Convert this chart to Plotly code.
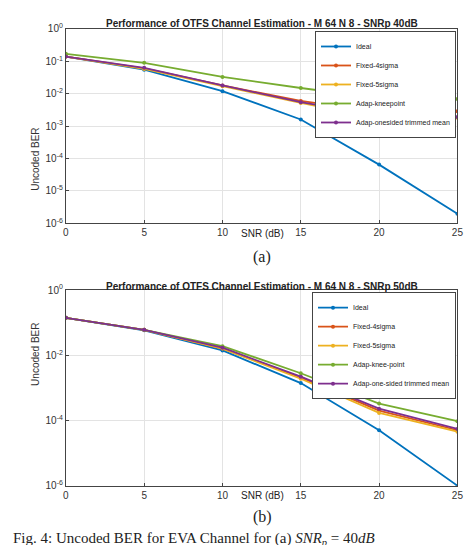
import plotly.graph_objects as go

snr = [0, 5, 10, 15, 20, 25]
names_a = ["Ideal", "Fixed-4sigma", "Fixed-5sigma", "Adap-kneepoint", "Adap-onesided trimmed mean"]
names_b = ["Ideal", "Fixed-4sigma", "Fixed-5sigma", "Adap-knee-point", "Adap-one-sided trimmed mean"]
colors = ["#0072BD", "#D95319", "#EDB120", "#77AC30", "#7E2F8E"]

ideal_a = [0.14, 0.055, 0.012, 0.0016, 6.5e-5, 2e-6]
f4_a = [0.14, 0.06, 0.018, 0.006, 0.0027, 0.0029]
f5_a = [0.14, 0.058, 0.017, 0.0052, 0.0017, 0.0018]
knee_a = [0.17, 0.09, 0.033, 0.015, 0.0073, 0.0069]
trim_a = [0.14, 0.063, 0.018, 0.0055, 0.0021, 0.0019]

ideal_b = [0.14, 0.058, 0.014, 0.0014, 5e-5, 1e-6]
f4_b = [0.14, 0.06, 0.016, 0.0021, 0.0002, 5e-5]
f5_b = [0.14, 0.06, 0.016, 0.0019, 0.00017, 4.5e-5]
knee_b = [0.14, 0.06, 0.019, 0.0028, 0.00033, 9.5e-5]
trim_b = [0.14, 0.06, 0.017, 0.0022, 0.00023, 5.5e-5]

series_a = [ideal_a, f4_a, f5_a, knee_a, trim_a]
series_b = [ideal_b, f4_b, f5_b, knee_b, trim_b]

fig = go.Figure()
for n, c, y in zip(names_a, colors, series_a):
    fig.add_trace(go.Scatter(x=snr, y=y, name=n, mode="lines+markers", line=dict(color=c, width=1.8),
                             marker=dict(size=4, color=c), xaxis="x", yaxis="y", legend="legend"))
for n, c, y in zip(names_b, colors, series_b):
    fig.add_trace(go.Scatter(x=snr, y=y, name=n, mode="lines+markers", line=dict(color=c, width=1.8),
                             marker=dict(size=4, color=c), xaxis="x2", yaxis="y2", legend="legend2"))

font = dict(family="Liberation Sans, Arial", size=10, color="#333")
xd = [0.118, 0.96]
ax_common = dict(showgrid=True, gridcolor="#e3e3e3", showline=True, linecolor="#444", mirror=True,
                 ticks="inside", ticklen=3, tickfont=font, zeroline=False)
exp_a = [0, -1, -2, -3, -4, -5, -6]
exp_b = [0, -2, -4, -6]
legfont = dict(family="Liberation Sans, Arial", size=7, color="#222")
fig.update_layout(
    width=474, height=545, margin=dict(l=0, r=0, t=0, b=0),
    paper_bgcolor="white", plot_bgcolor="white", font=font,
    xaxis=dict(domain=xd, anchor="y", range=[0, 25], tickvals=snr, **ax_common),
    yaxis=dict(domain=[0.609, 0.974], anchor="x", type="log", range=[-6, 0],
               tickvals=[10**e for e in exp_a], ticktext=[f"10<sup>{e}</sup>" for e in exp_a], **ax_common),
    xaxis2=dict(domain=xd, anchor="y2", range=[0, 25], tickvals=snr, **ax_common),
    yaxis2=dict(domain=[0.117, 0.484], anchor="x2", type="log", range=[-6, 0],
                tickvals=[10**e for e in exp_b], ticktext=[f"10<sup>{e}</sup>" for e in exp_b], **ax_common),
    legend=dict(x=0.957, y=0.97, xanchor="right", yanchor="top", bgcolor="white",
                bordercolor="#444", borderwidth=1, font=legfont, tracegroupgap=0, itemwidth=30),
    legend2=dict(x=0.957, y=0.48, xanchor="right", yanchor="top", bgcolor="white",
                 bordercolor="#444", borderwidth=1, font=legfont, tracegroupgap=0, itemwidth=30),
)
ann = [
    dict(text="<b>Performance of OTFS Channel Estimation - M 64 N 8 - SNRp 40dB</b>", x=0.54, y=0.999, yanchor="top", size=10),
    dict(text="<b>Performance of OTFS Channel Estimation - M 64 N 8 - SNRp 50dB</b>", x=0.54, y=0.505, yanchor="top", size=10),
    dict(text="SNR (dB)", x=0.54, y=1 - 223 / 545, yanchor="middle", size=10),
    dict(text="SNR (dB)", x=0.54, y=1 - 491 / 545, yanchor="middle", size=10),
    dict(text="(a)", x=0.54, y=1 - 247 / 545, yanchor="middle", size=16, fam="Liberation Serif"),
    dict(text="(b)", x=0.54, y=1 - 513 / 545, yanchor="middle", size=16, fam="Liberation Serif"),
    dict(text="Fig. 4: Uncoded BER for EVA Channel for (a) <i>SNR<sub>p</sub></i> = 40<i>dB</i>", x=0.0, y=1 - 536 / 545,
         yanchor="middle", xanchor="left", size=15, fam="Liberation Serif"),
]
for a in ann:
    fig.add_annotation(text=a["text"], x=a["x"], y=a["y"], xref="paper", yref="paper", showarrow=False,
                       xanchor=a.get("xanchor", "center"), yanchor=a["yanchor"],
                       font=dict(family=a.get("fam", "Liberation Sans, Arial"), size=a["size"], color="#222"))
for yy in [1 - 113 / 545, 1 - 381 / 545]:
    fig.add_annotation(text="Uncoded BER", x=0.035, y=yy, xref="paper", yref="paper", showarrow=False,
                       textangle=-90, font=dict(family="Liberation Sans, Arial", size=10, color="#333"))
fig.write_html("out.html")
